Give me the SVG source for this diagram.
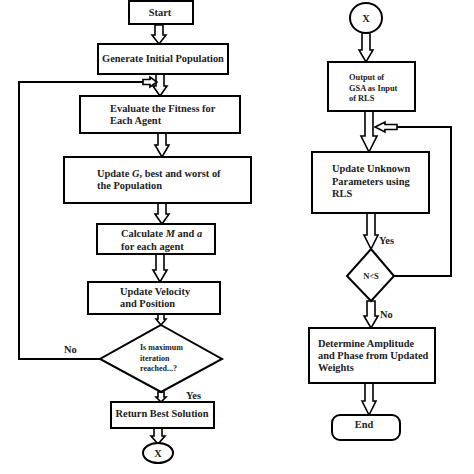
<svg xmlns="http://www.w3.org/2000/svg" width="474" height="474" viewBox="0 0 474 474">
<style>
.box{fill:#fff;stroke:#000;stroke-width:2}
.blk{fill:#fff;stroke:#000;stroke-width:1.6;stroke-linejoin:miter}
.ln{fill:none;stroke:#000;stroke-width:2}
text{font-family:"Liberation Serif","Times New Roman",serif;font-weight:bold;fill:#222}
.t{font-size:10.4px}
.s{font-size:8.4px}
.d{font-size:8px}
.m{text-anchor:middle}
</style>
<rect width="474" height="474" fill="#fff"/>
<g id="connectors">
  <path class="ln" d="M100,359 H19 V82 H143"/>
  <path class="ln" d="M394,276 H451 V127 H397"/>
  <path class="blk" d="M155,25 H163 V35 H166 L159,44 L152,35 H155 Z"/>
  <path class="blk" d="M156,74 H164 V86 H167 L160,96 L153,86 H156 Z"/>
  <path class="blk" d="M143,79.5 H150 V77 L157,82 L150,87 V84.5 H143 Z"/>
  <path class="blk" d="M158,133 H166 V145 H169 L162,157 L155,145 H158 Z"/>
  <path class="blk" d="M158,203 H166 V214 H169 L162,224 L155,214 H158 Z"/>
  <path class="blk" d="M156,254 H164 V270 H167 L160,282 L153,270 H156 Z"/>
  <path class="blk" d="M158,314 H164 V319 H166 L161,325 L156,319 H158 Z"/>
  <path class="blk" d="M158,392 H164 V397 H166 L161,402 L156,397 H158 Z"/>
  <path class="blk" d="M154,428 H162 V436 H165 L158,444 L151,436 H154 Z"/>
  <path class="blk" d="M362,33 H370 V50 H373 L366,62 L359,50 H362 Z"/>
  <path class="blk" d="M365,111 H373 V136 H377 L369,152 L361,136 H365 Z"/>
  <path class="blk" d="M397,124.5 H385 V122 L375,127 L385,132 V129.5 H397 Z"/>
  <path class="blk" d="M367,213 H375 V235 H378 L371,249 L364,235 H367 Z"/>
  <path class="blk" d="M367,301 H375 V316 H378 L371,328 L364,316 H367 Z"/>
  <path class="blk" d="M365,383 H373 V401 H376 L369,415 L362,401 H365 Z"/>
</g>
<g id="start">
  <rect class="box" x="129" y="1" width="64" height="23"/>
  <text class="t m" x="160" y="16">Start</text>
</g>
<g id="generate">
  <rect class="box" x="98" y="44" width="130" height="30"/>
  <text class="t m" x="163" y="62">Generate Initial Population</text>
</g>
<g id="evaluate">
  <rect class="box" x="80" y="96" width="160" height="37"/>
  <text class="t" x="110" y="112">Evaluate the Fitness for</text>
  <text class="t" x="110" y="124">Each Agent</text>
</g>
<g id="updateG">
  <rect class="box" x="64" y="157" width="187" height="46"/>
  <text class="t" x="97" y="177">Update <tspan font-style="italic">G</tspan>, best and worst of</text>
  <text class="t" x="97" y="189">the Population</text>
</g>
<g id="calculate">
  <rect class="box" x="97" y="224" width="118" height="30"/>
  <text class="t" x="121" y="237">Calculate <tspan font-style="italic">M</tspan> and <tspan font-style="italic">a</tspan></text>
  <text class="t" x="121" y="250">for each agent</text>
</g>
<g id="velocity">
  <rect class="box" x="88" y="282" width="132" height="32"/>
  <text class="t" x="120" y="295">Update Velocity</text>
  <text class="t" x="120" y="307">and Position</text>
</g>
<g id="maxiter">
  <polygon class="box" points="161,325 222,359 161,392 100,359"/>
  <text class="d" x="140" y="350">Is maximum</text>
  <text class="d" x="140" y="361">iteration</text>
  <text class="d" x="140" y="371">reached...?</text>
  <text class="t" x="64" y="353">No</text>
  <text class="t" x="186" y="399">Yes</text>
</g>
<g id="return">
  <rect class="box" x="111" y="402" width="103" height="26"/>
  <text class="t m" x="162" y="417">Return Best Solution</text>
</g>
<g id="x1">
  <ellipse class="box" cx="158" cy="453" rx="15" ry="10"/>
  <text class="t m" x="158" y="457">X</text>
</g>
<g id="x2">
  <ellipse class="box" cx="366" cy="18" rx="16" ry="15"/>
  <text class="t m" x="366" y="22">X</text>
</g>
<g id="output">
  <rect class="box" x="328" y="62" width="87" height="49"/>
  <text class="s" x="349" y="80">Output of</text>
  <text class="s" x="349" y="91">GSA  as Input</text>
  <text class="s" x="349" y="101">of RLS</text>
</g>
<g id="updateRLS">
  <rect class="box" x="312" y="152" width="117" height="61"/>
  <text class="t" x="332" y="172">Update Unknown</text>
  <text class="t" x="332" y="185">Parameters using</text>
  <text class="t" x="332" y="197">RLS</text>
</g>
<g id="nlts">
  <polygon class="box" points="371,249 394,276 371,301 347,276"/>
  <text class="m" x="371" y="279" font-size="8.5">N&lt;S</text>
  <text class="t" x="379" y="244">Yes</text>
  <text class="t" x="380" y="318">No</text>
</g>
<g id="determine">
  <rect class="box" x="309" y="328" width="126" height="55"/>
  <text class="t" x="318" y="347">Determine Amplitude</text>
  <text class="t" x="318" y="359">and Phase from Updated</text>
  <text class="t" x="318" y="371">Weights</text>
</g>
<g id="end">
  <rect class="box" x="332" y="415" width="68" height="25" rx="8"/>
  <text class="t m" x="364" y="428">End</text>
</g>
</svg>
